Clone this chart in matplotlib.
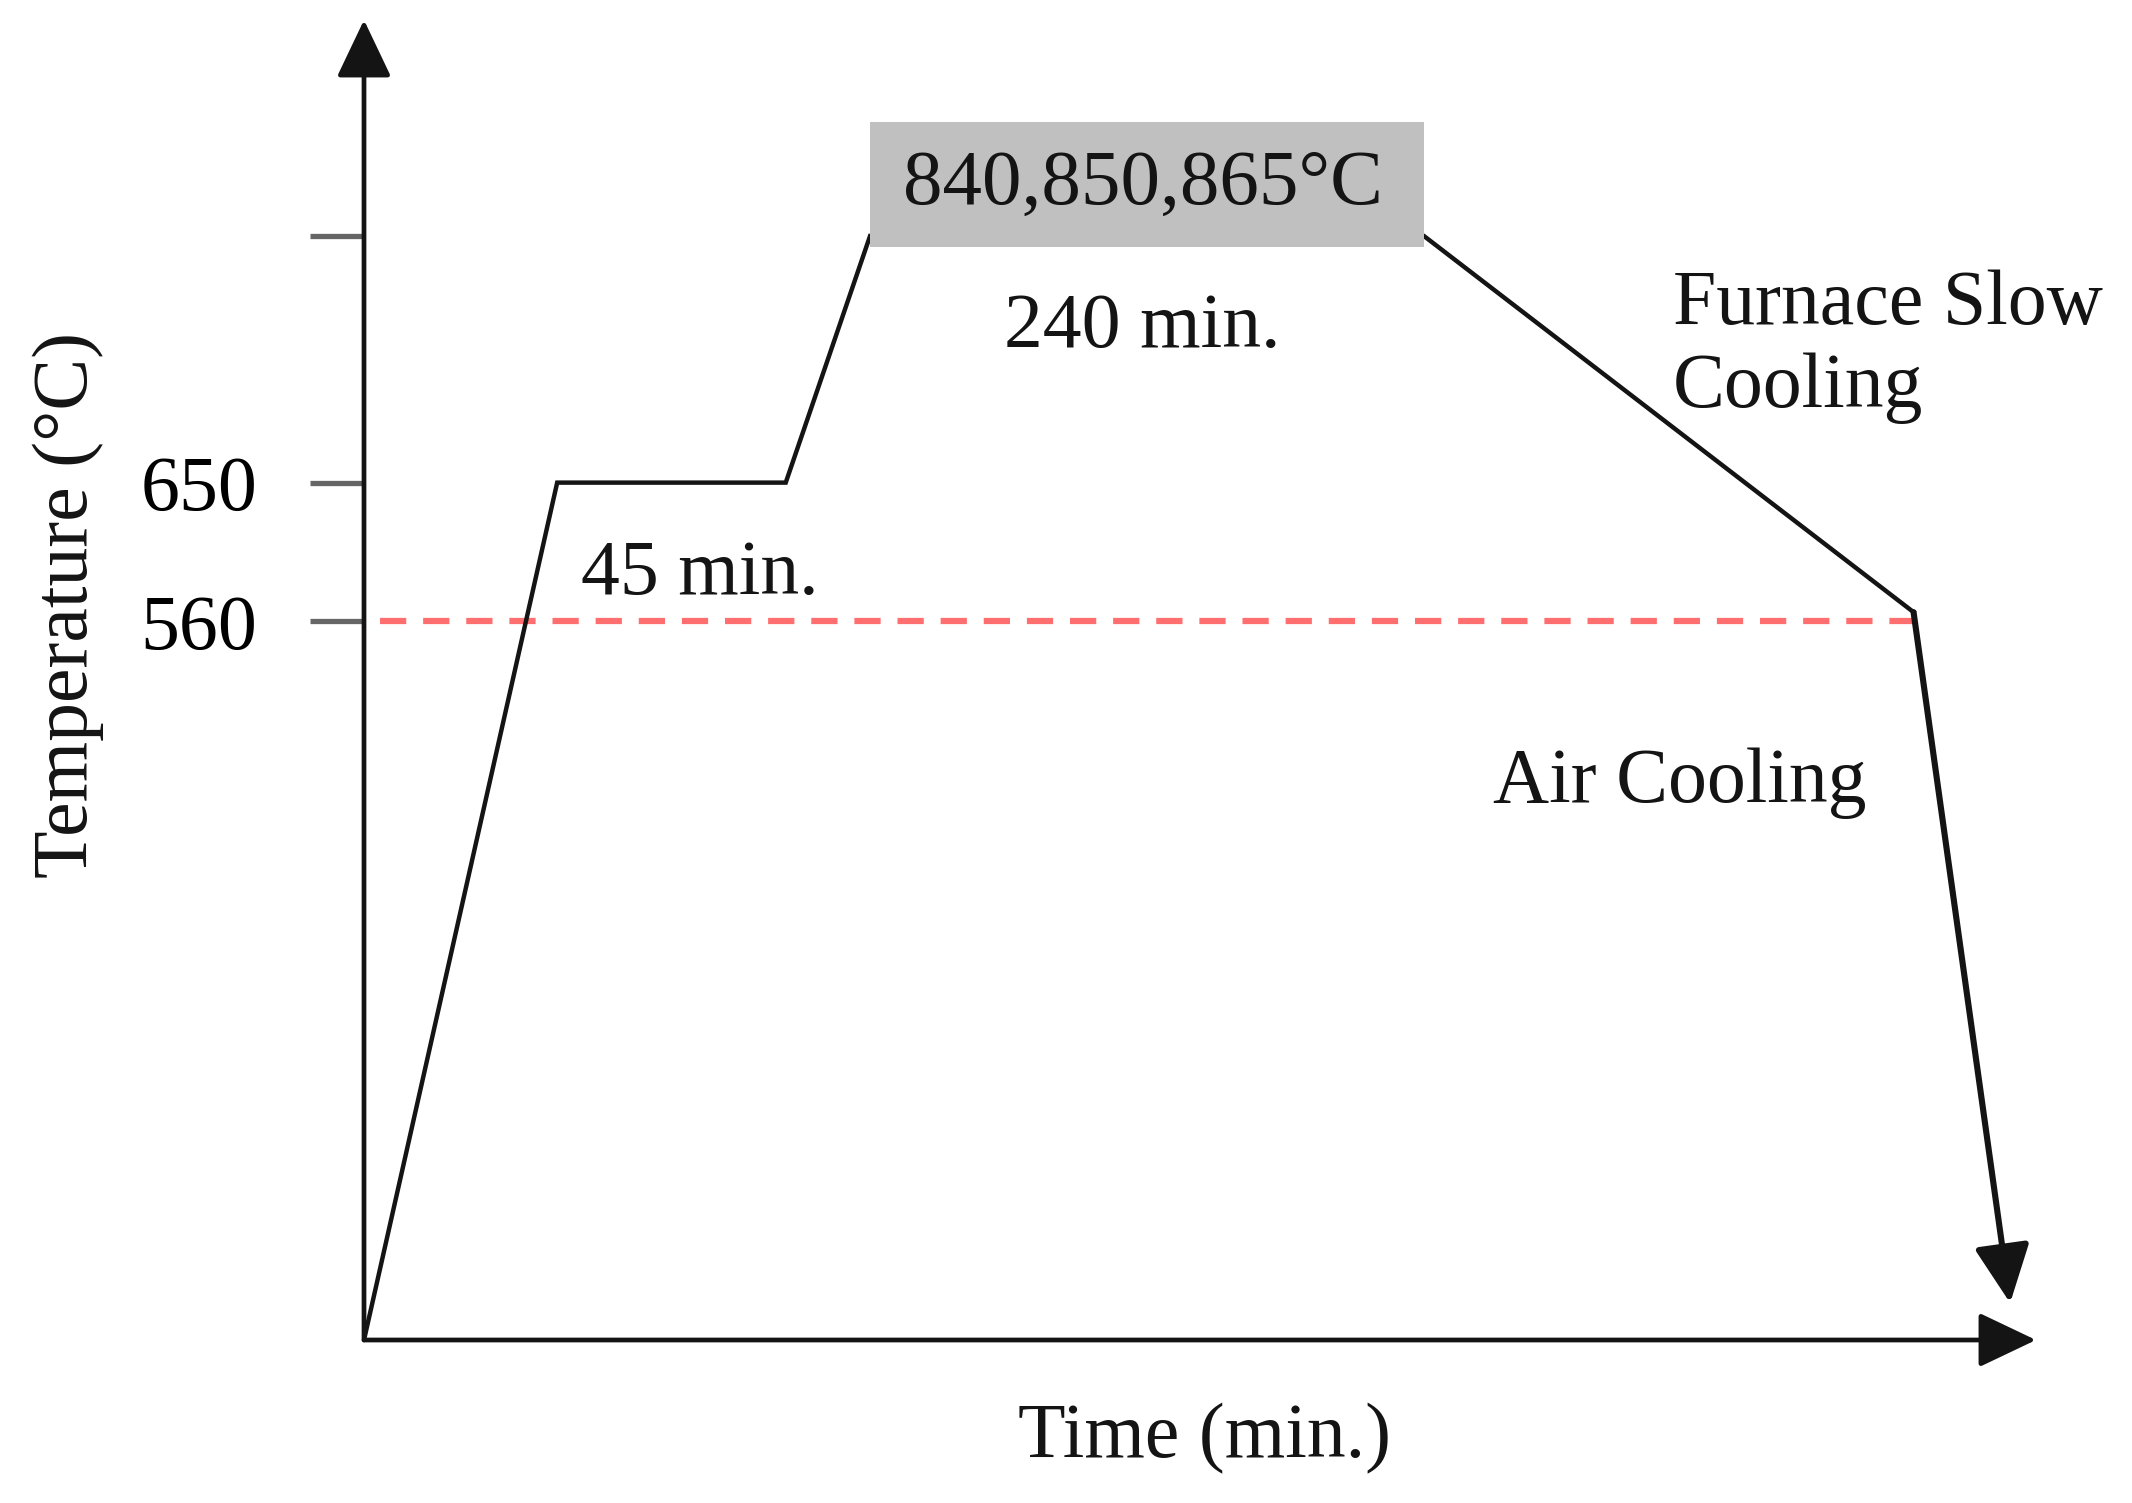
import matplotlib
matplotlib.use('Agg')
import matplotlib.pyplot as plt
from matplotlib.patches import Rectangle

plt.rcParams['font.family'] = ['Liberation Serif', 'DejaVu Serif']

# schematic heat-treatment cycle (arbitrary time units, temperature in C)
time_pts = [0, 14.2, 31.0, 37.2, 77.9, 113.9]
temp_pts = [94, 650, 650, 810, 810, 566]
air_end = (121.0, 118)          # end of the air-cooling arrow
crit_temp = 560                  # red dashed line
crit_span = (1.2, 114.2)
hold_box = (37.2, 77.9, 803, 884)  # t0, t1, T0, T1 of grey box

ytick_vals = [560, 650, 810]
ytick_labels = ['560', '650', '']

XLIM = (0, 122.9)
YLIM = (94, 950)
FS = 56
INK = '#141414'

fig = plt.figure(figsize=(21.32, 15.03), dpi=100)
ax = fig.add_axes([364 / 2132, 163 / 1503, 1672 / 2132, 1320 / 1503])
ax.set_xlim(*XLIM)
ax.set_ylim(*YLIM)
for s in ax.spines.values():
    s.set_visible(False)
ax.set_xticks([])
ax.set_yticks(ytick_vals, labels=ytick_labels)
ax.tick_params(axis='y', length=39, width=3.8, color='#666666', pad=38, labelsize=FS)

# axis arrows
arrow_kw = dict(arrowstyle='-|>,head_length=0.42,head_width=0.2', color=INK,
                lw=3.4, shrinkA=0, shrinkB=0, mutation_scale=85)
ax.annotate('', xy=(0, 1), xytext=(0, 0), xycoords='axes fraction', arrowprops=arrow_kw)
ax.annotate('', xy=(1, 0), xytext=(0, 0), xycoords='axes fraction', arrowprops=arrow_kw)

# critical temperature line
ax.plot(crit_span, [crit_temp, crit_temp], color='#ff5f5f', lw=4.5, dashes=(4.2, 2.7),
        alpha=0.9, zorder=2)

# heating / holding / furnace cooling
ax.plot(time_pts, temp_pts, color=INK, lw=3.2, zorder=3, solid_joinstyle='miter')

# air cooling
ax.annotate('', xy=air_end, xytext=(time_pts[-1], temp_pts[-1]),
            arrowprops=dict(arrowstyle='-|>,head_length=0.42,head_width=0.2', color=INK,
                            lw=4.4, shrinkA=0, shrinkB=0, mutation_scale=85), zorder=3)

# austenitising box
t0, t1, T0, T1 = hold_box
ax.add_patch(Rectangle((t0, T0), t1 - t0, T1 - T0, facecolor='#c0c0c0', edgecolor='none', zorder=4))
ax.text((t0 + t1) / 2 - 0.3, 843, '840,850,865°C', ha='center', va='center', fontsize=FS + 1,
        color=INK, zorder=5)

ax.text(57.2, 750, '240 min.', ha='center', va='center', fontsize=FS, color=INK)
ax.text(24.7, 590, '45 min.', ha='center', va='center', fontsize=FS, color=INK)
ax.text(96.2, 738, 'Furnace Slow\nCooling', ha='left', va='center', fontsize=FS,
        linespacing=1.2, color=INK)
ax.text(96.7, 455, 'Air Cooling', ha='center', va='center', fontsize=FS, color=INK)

fig.text(1204 / 2132, 1 - 1439 / 1503, 'Time (min.)', ha='center', va='center', fontsize=FS, color=INK)
fig.text(68 / 2132, 1 - 605 / 1503, 'Temperature (°C)', ha='center', va='center',
         rotation=90, fontsize=FS, color=INK)

fig.savefig('out.png', dpi=100, facecolor='white')
